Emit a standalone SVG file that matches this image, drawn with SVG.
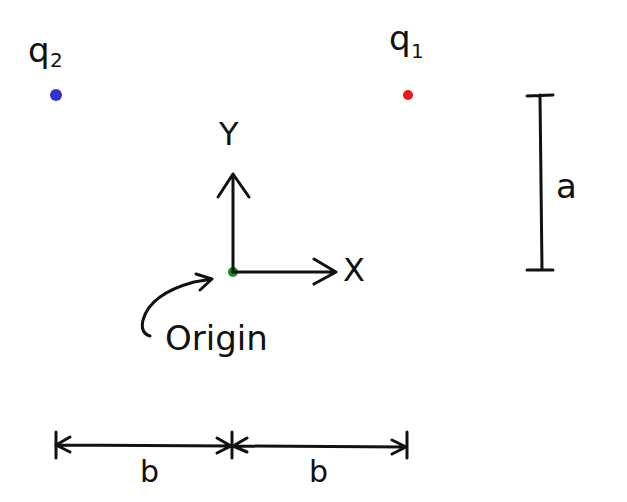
<svg xmlns="http://www.w3.org/2000/svg" width="627" height="502" viewBox="0 0 627 502">
<style>
.ln{stroke:#111;stroke-width:3;fill:none;stroke-linecap:round;stroke-linejoin:round}
.t{font-family:"DejaVu Sans","Liberation Sans",sans-serif;fill:#111}
</style>
<rect width="627" height="502" fill="#fff"/>
<g id="q2">
<circle cx="56" cy="95" r="6" fill="#3333cc"/>
<text class="t" x="28" y="62" font-size="34">q</text>
<text class="t" x="50" y="67" font-size="20">2</text>
</g>
<g id="q1">
<circle cx="408" cy="95" r="5" fill="#e61a1a"/>
<text class="t" x="389" y="50" font-size="34">q</text>
<text class="t" x="411" y="58" font-size="20">1</text>
</g>
<g id="origin">
<circle cx="233" cy="272" r="5" fill="#1a8a1a"/>
<text class="t" x="165" y="350" font-size="34">Origin</text>
</g>
<g id="Ylabel"><text class="t" x="219" y="145" font-size="32">Y</text></g>
<g id="Xlabel"><text class="t" x="343" y="281" font-size="32">X</text></g>
<g id="a-label"><text class="t" x="556" y="198" font-size="34">a</text></g>
<g id="b-labels">
<text class="t" x="140" y="482" font-size="30">b</text>
<text class="t" x="309" y="482" font-size="30">b</text>
</g>
<g id="connectors">
<path class="ln" d="M233 272 L233 174 M218 197 L233 174 L249 197"/>
<path class="ln" d="M233 272 L336 272 M314 259 L336 272 L314 284"/>
<path class="ln" d="M212 279 L194 282 Q150 294 143 320 Q140 333 150 336 M196 274 L212 279 L200 290"/>
<path class="ln" d="M540 95 L542 270 M527 96 L553 95 M527 270 L553 270"/>
<path class="ln" d="M56 432 L56 458 M232 432 L232 458 M407 432 L407 458"/>
<path class="ln" d="M56 445 L231 446 M70 437 L56 445 L70 452 M217 438 L231 446 L217 453"/>
<path class="ln" d="M233 446 L406 447 M247 438 L233 446 L247 452 M392 440 L406 447 L392 454"/>
</g>
</svg>
